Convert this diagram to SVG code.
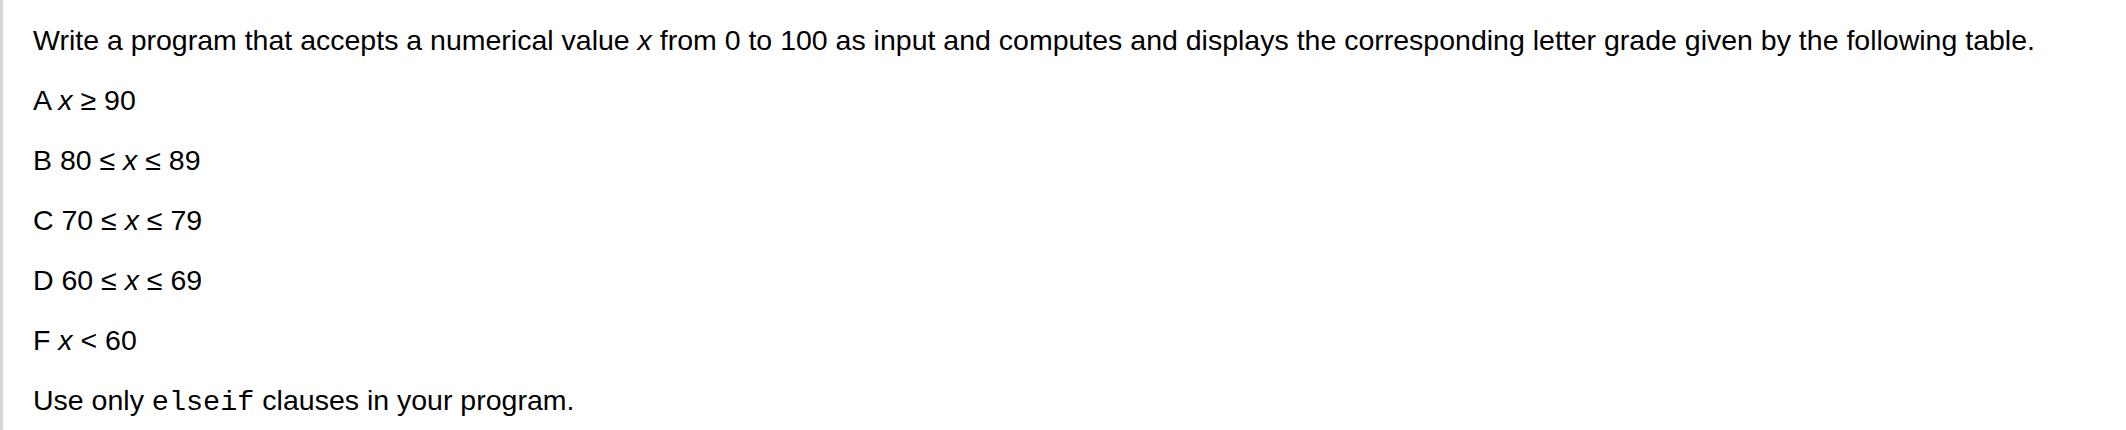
<svg xmlns="http://www.w3.org/2000/svg" width="2126" height="430" viewBox="0 0 2126 430">
<style>
text{font-family:"Liberation Sans",Arial,sans-serif;font-size:28.5px;fill:#000}
.i{font-style:italic}
.m{font-family:"Liberation Mono","DejaVu Sans Mono",monospace}
</style>
<rect width="2126" height="430" fill="#fff"/>
<rect x="0" y="0" width="3" height="430" fill="#d8d8d8"/>
<text x="33" y="50">Write a program that accepts a numerical value <tspan class="i">x</tspan> from 0 to 100 as input and computes and displays the corresponding letter grade given by the following table.</text>
<text x="33" y="110">A <tspan class="i">x</tspan> ≥ 90</text>
<text x="33" y="170">B 80 ≤ <tspan class="i">x</tspan> ≤ 89</text>
<text x="33" y="230">C 70 ≤ <tspan class="i">x</tspan> ≤ 79</text>
<text x="33" y="290">D 60 ≤ <tspan class="i">x</tspan> ≤ 69</text>
<text x="33" y="350">F <tspan class="i">x</tspan> &lt; 60</text>
<text x="33" y="410">Use only <tspan class="m">elseif</tspan> clauses in your program.</text>
</svg>
